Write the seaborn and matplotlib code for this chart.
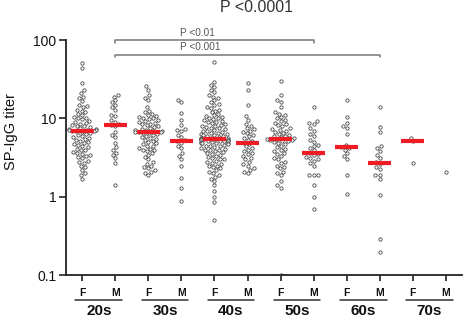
import matplotlib
matplotlib.use("Agg")
import matplotlib.pyplot as plt
import matplotlib.transforms as mtransforms
import numpy as np
import pandas as pd
import seaborn as sns

# ---------------- data ----------------
decades = ["20s", "30s", "40s", "50s", "60s", "70s"]
sexes = ["F", "M"]

f20 = [51, 44, 28, 23, 21, 19, 18, 16.5, 15, 14.5, 14, 13, 12.5, 12, 11.5, 11, 10.5, 10.2,
       10, 9.7, 9.4, 9.1, 8.8, 8.5, 8.3, 8.1, 7.9, 7.7, 7.5, 7.4, 7.3, 7.2, 7.1, 7.1, 7.0,
       7.0, 6.9, 6.8, 6.6, 6.4, 6.2, 6.0, 5.8, 5.7, 5.5, 5.3, 5.2, 5.0, 4.9, 4.7, 4.6, 4.4,
       4.3, 4.1, 4.0, 3.9, 3.7, 3.6, 3.5, 3.4, 3.3, 3.2, 3.1, 2.9, 2.8, 2.7, 2.5, 2.4, 2.2,
       2.0, 1.9, 1.7]
m20 = [20, 19, 17, 16, 15, 14, 13, 11, 10.6, 9.6, 9, 8.6, 8.3, 8, 6.7, 6.2, 5.8, 4.9, 4.3,
       3.9, 3.6, 3.4, 3.1, 2.7, 1.4]
f30 = [25.6, 23, 20, 18.5, 17, 14, 12.5, 12, 11.5, 11, 10.8, 10.5, 10.2, 10, 9.8, 9.5, 9.2,
       9, 8.8, 8.6, 8.4, 8.2, 8, 7.8, 7.6, 7.4, 7.2, 7.1, 7.0, 6.9, 6.8, 6.7, 6.7, 6.6, 6.5,
       6.3, 6.1, 6.0, 5.8, 5.6, 5.5, 5.3, 5.1, 5.0, 4.8, 4.7, 4.5, 4.4, 4.2, 4.1, 4.0, 3.9,
       3.8, 3.6, 3.4, 3.2, 3.0, 2.8, 2.6, 2.5, 2.4, 2.3, 2.2, 2.1, 2.0, 1.9]
m30 = [17, 16, 11.9, 9.6, 8.3, 7.3, 7.1, 6.9, 6.2, 5.8, 5.3, 5.1, 4.9, 4.5, 4.2, 3.6, 3.3,
       3.0, 2.5, 1.75, 1.3, 0.89]
f40 = [53, 29.5, 27, 25, 23, 21.5, 20, 19, 18, 17, 16, 15.5, 15, 14, 13.5, 13, 12.5, 12,
       11.5, 11, 10.8, 10.5, 10.2, 10, 9.8, 9.5, 9.3, 9.1, 8.9, 8.7, 8.5, 8.3, 8.1, 7.9, 7.8,
       7.6, 7.5, 7.3, 7.2, 7.0, 6.9, 6.8, 6.6, 6.5, 6.4, 6.3, 6.2, 6.1, 6.0, 5.9, 5.8, 5.7,
       5.6, 5.6, 5.5, 5.5, 5.4, 5.4, 5.3, 5.3, 5.3, 5.2, 5.2, 5.1, 5.1, 5.0, 5.0, 4.9, 4.9,
       4.8, 4.8, 4.7, 4.6, 4.5, 4.5, 4.4, 4.3, 4.2, 4.1, 4.0, 4.0, 3.9, 3.8, 3.7, 3.6, 3.5,
       3.4, 3.3, 3.2, 3.1, 3.0, 3.0, 2.9, 2.8, 2.7, 2.6, 2.5, 2.5, 2.4, 2.3, 2.2, 2.1, 2.0,
       1.9, 1.8, 1.7, 1.6, 1.4, 1.2, 1.0, 0.87, 0.5]
m40 = [28, 23, 15, 10.6, 9.5, 8.5, 8, 7.6, 7.3, 7, 6.8, 6.5, 6.2, 5.9, 5.6, 5.3, 5.1, 4.9,
       4.7, 4.4, 4.2, 4.0, 3.8, 3.6, 3.5, 3.3, 3.1, 3.0, 2.8, 2.6, 2.5, 2.3, 2.2, 2.1, 2.0]
f50 = [30, 20, 17, 16, 14, 12, 11.5, 11, 10.5, 10, 9.6, 9.2, 8.8, 8.5, 8.2, 7.9, 7.6, 7.4,
       7.2, 7.0, 6.8, 6.6, 6.4, 6.2, 6.0, 5.9, 5.8, 5.6, 5.5, 5.4, 5.3, 5.3, 5.2, 5.1, 5.0,
       4.9, 4.7, 4.5, 4.3, 4.1, 4.0, 3.8, 3.6, 3.5, 3.3, 3.1, 3.0, 2.8, 2.7, 2.5, 2.4, 2.3,
       2.1, 2.0, 1.9, 1.6, 1.4, 1.3, 0.1]
m50 = [13.8, 9.2, 8.8, 8.6, 7.6, 7.0, 6.4, 6.0, 5.3, 5.0, 4.6, 4.4, 4.2, 3.9, 3.6, 3.5, 3.4,
       3.2, 3.1, 3.0, 2.9, 2.7, 2.5, 1.9, 1.9, 1.9, 1.4, 1.0, 0.7]
f60 = [17.3, 10.3, 8.8, 8.0, 7.6, 6.4, 4.6, 4.3, 4.2, 4.0, 3.6, 3.3, 3.0, 1.9, 1.09]
m60 = [14.2, 7.7, 6.8, 4.4, 4.2, 3.8, 3.4, 3.1, 2.8, 2.6, 2.4, 2.25, 1.9, 1.9, 1.67, 1.05,
       0.29, 0.2]
f70 = [5.7, 5.1, 2.7]
m70 = [2.07]

series = [f20, m20, f30, m30, f40, m40, f50, m50, f60, m60, f70, m70]
group_names = [f"{d}_{s}" for d in decades for s in sexes]
tick_labels = [s for d in decades for s in sexes]

brackets = [(1, 7, 100, "P <0.01"), (1, 9, 65, "P <0.001")]
overall_p = "P <0.0001"

# ---------------- frame ----------------
rows = []
for g, vals in zip(group_names, series):
    for v in vals:
        rows.append((g, v))
df = pd.DataFrame(rows, columns=["group", "titer"])
df["group"] = pd.Categorical(df["group"], categories=group_names, ordered=True)
# groups with a single observation carry no median bar
df_med = df[df.groupby("group", observed=False)["titer"].transform("size") > 1]

# ---------------- figure ----------------
sns.set_theme(style="ticks")
plt.rcParams["font.family"] = ["Liberation Sans", "DejaVu Sans"]

fig = plt.figure(figsize=(4.74, 3.26), dpi=100)
ax = fig.add_axes([0.139, 0.156, 0.836, 0.721])
ax.set_yscale("log")
ax.set_ylim(0.1, 100)
ax.set_xlim(-0.5, 11.5)

sns.swarmplot(data=df, x="group", y="titer", order=group_names, ax=ax,
              size=2.4, color="white", edgecolor="#3a3a3a", linewidth=0.55,
              warn_thresh=1.0, zorder=2)

sns.boxplot(data=df_med, x="group", y="titer", order=group_names, ax=ax,
            width=0.68, showbox=False, showcaps=False, showfliers=False, whis=0,
            whiskerprops={"visible": False},
            medianprops={"color": "#ee1c25", "linewidth": 3, "zorder": 5})

ax.set_yscale("log")
ax.set_ylim(0.1, 100)
ax.set_xlim(-0.5, 11.5)
ax.set_yticks([0.1, 1, 10, 100])
ax.set_yticklabels(["0.1", "1", "10", "100"], fontsize=10)
ax.yaxis.set_minor_locator(matplotlib.ticker.NullLocator())
ax.set_xticks(range(len(group_names)))
ax.set_xticklabels(tick_labels, fontsize=7.5, fontweight="bold")
ax.tick_params(axis="x", length=4, width=1.2, pad=5, colors="#222222")
ax.tick_params(axis="y", length=5, width=1.2, pad=2, colors="#222222")
for lab in ax.get_xticklabels() + ax.get_yticklabels():
    lab.set_color("#111111")
ax.set_xlabel("")
ax.set_ylabel("SP-IgG titer", fontsize=10.5, color="#111111")
ax.yaxis.set_label_coords(-0.12, 0.61)
for sp in ["top", "right"]:
    ax.spines[sp].set_visible(False)
for sp in ["left", "bottom"]:
    ax.spines[sp].set_linewidth(1.3)
    ax.spines[sp].set_color("#222222")

# decade group labels with underline
trans = mtransforms.blended_transform_factory(ax.transData, ax.transAxes)
for i, d in enumerate(decades):
    x0, x1 = 2 * i, 2 * i + 1
    ax.plot([x0 - 0.21, x1 + 0.21], [-0.106, -0.106], transform=trans, color="#333333",
            lw=1.1, clip_on=False)
    ax.text((x0 + x1) / 2, -0.122, d, transform=trans, ha="center", va="top",
            fontsize=11, fontweight="bold", color="#111111")

# significance brackets
for x0, x1, yv, txt in brackets:
    ax.plot([x0, x0, x1, x1], [yv * 0.93, yv, yv, yv * 0.93], color="#777777", lw=1.1,
            clip_on=False)
    ax.text(2.95, yv * 1.07, txt, ha="left", va="bottom", fontsize=7.2, color="#555555")

fig.text(0.542, 1 - 12.5 / 326, overall_p, ha="center", va="baseline", fontsize=11.5,
         color="#333333")

fig.savefig("out.png", dpi=100)
